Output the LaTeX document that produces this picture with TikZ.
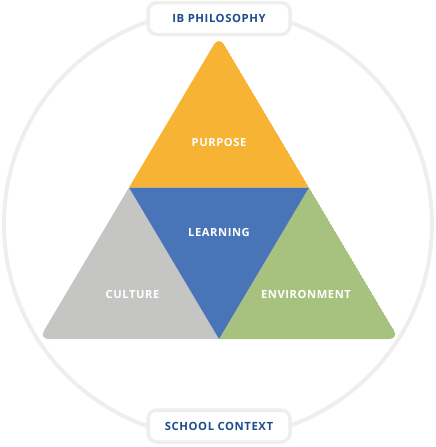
\documentclass[tikz,border=0pt]{standalone}
\usepackage{fontspec}
\setmainfont{Open Sans}
\newfontfamily\tagfont[LetterSpace=5]{Open Sans}
\definecolor{ringgray}{HTML}{EFEEED}
\definecolor{titleblue}{HTML}{1E4B8C}
\definecolor{purposeyellow}{HTML}{F7B334}
\definecolor{learningblue}{HTML}{4A74B8}
\definecolor{culturegray}{HTML}{C5C5C4}
\definecolor{envgreen}{HTML}{A7C27F}
\begin{document}
\begin{tikzpicture}[x=1pt,y=-1pt]
	\tikzstyle{Side} = [font=\tagfont\bfseries\fontsize{11.2}{13}\selectfont, text=white]
	\tikzstyle{Tag} = [rectangle, rounded corners=9pt, draw=ringgray, line width=3.5pt, fill=white, minimum width=142pt, minimum height=32pt, font=\tagfont\bfseries\fontsize{11.3}{13}\selectfont, text=titleblue]
	
	\useasboundingbox (0,0) rectangle (436,447);
	\draw [ringgray, line width=4pt] (218,224) circle [radius=214pt];
	
	\coordinate (top) at (219,36);
	\coordinate (left) at (39,339);
	\coordinate (right) at (399,339);
	\coordinate (ml) at (129,187.5);
	\coordinate (mr) at (309,187.5);
	\coordinate (mb) at (219,339);
	
	\begin{scope}
		\clip [rounded corners=10pt] (top) -- (left) -- (right) -- cycle;
		\fill [purposeyellow] (top) -- (ml) -- (mr) -- cycle;
		\fill [culturegray] (ml) -- (left) -- (mb) -- cycle;
		\fill [envgreen] (mr) -- (mb) -- (right) -- cycle;
		\fill [learningblue] (ml) -- (mr) -- (mb) -- cycle;
	\end{scope}
	
	\node (purpose) [Side] at (219,142) {PURPOSE};
	\node (learning) [Side] at (219,232) {LEARNING};
	\node (culture) [Side] at (132.5,294.5) {CULTURE};
	\node (environment) [Side] at (306,294.5) {ENVIRONMENT};
	
	\node (ib) [Tag] at (219,18.5) {IB PHILOSOPHY};
	\node (context) [Tag] at (219,426) {SCHOOL CONTEXT};
\end{tikzpicture}
\end{document}
